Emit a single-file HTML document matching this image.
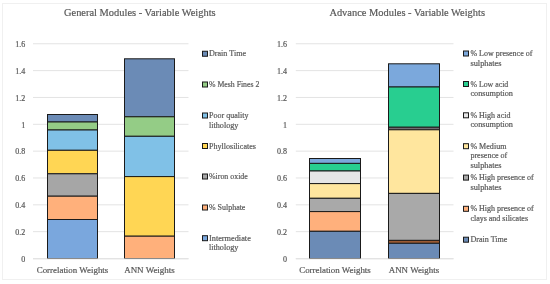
<!DOCTYPE html>
<html><head><meta charset="utf-8"><title>Variable Weights</title>
<style>
html,body{margin:0;padding:0;background:#fff;}
body{width:550px;height:284px;overflow:hidden;}
svg{display:block;}
svg text{font-family:"Liberation Serif", "DejaVu Serif", serif;stroke:#595959;stroke-width:0.2px;}
</style></head><body>
<svg width="550" height="284" viewBox="0 0 550 284">
<rect x="2.5" y="3.5" width="544" height="276" fill="#fff" stroke="#f0f0f0" stroke-width="1"/>
<text x="64" y="16" font-size="10.4" textLength="151.6" lengthAdjust="spacingAndGlyphs" fill="#595959">General Modules - Variable Weights</text>
<line x1="33" x2="188.5" y1="258.50" y2="258.50" stroke="#e3e3e3" stroke-width="1"/>
<text x="25.3" y="261.70" font-size="8" text-anchor="end" fill="#595959">0</text>
<line x1="33" x2="188.5" y1="231.66" y2="231.66" stroke="#e3e3e3" stroke-width="1"/>
<text x="25.3" y="234.86" font-size="8" text-anchor="end" fill="#595959">0.2</text>
<line x1="33" x2="188.5" y1="204.82" y2="204.82" stroke="#e3e3e3" stroke-width="1"/>
<text x="25.3" y="208.02" font-size="8" text-anchor="end" fill="#595959">0.4</text>
<line x1="33" x2="188.5" y1="177.98" y2="177.98" stroke="#e3e3e3" stroke-width="1"/>
<text x="25.3" y="181.18" font-size="8" text-anchor="end" fill="#595959">0.6</text>
<line x1="33" x2="188.5" y1="151.14" y2="151.14" stroke="#e3e3e3" stroke-width="1"/>
<text x="25.3" y="154.34" font-size="8" text-anchor="end" fill="#595959">0.8</text>
<line x1="33" x2="188.5" y1="124.30" y2="124.30" stroke="#e3e3e3" stroke-width="1"/>
<text x="25.3" y="127.50" font-size="8" text-anchor="end" fill="#595959">1</text>
<line x1="33" x2="188.5" y1="97.46" y2="97.46" stroke="#e3e3e3" stroke-width="1"/>
<text x="25.3" y="100.66" font-size="8" text-anchor="end" fill="#595959">1.2</text>
<line x1="33" x2="188.5" y1="70.62" y2="70.62" stroke="#e3e3e3" stroke-width="1"/>
<text x="25.3" y="73.82" font-size="8" text-anchor="end" fill="#595959">1.4</text>
<line x1="33" x2="188.5" y1="43.78" y2="43.78" stroke="#e3e3e3" stroke-width="1"/>
<text x="25.3" y="46.98" font-size="8" text-anchor="end" fill="#595959">1.6</text>
<rect x="47.5" y="114.50" width="50.0" height="7.50" fill="#6b8bb6" stroke="#1a1a1a" stroke-width="1"/>
<rect x="47.5" y="122.00" width="50.0" height="8.00" fill="#94cc86" stroke="#1a1a1a" stroke-width="1"/>
<rect x="47.5" y="130.00" width="50.0" height="20.30" fill="#80c1e7" stroke="#1a1a1a" stroke-width="1"/>
<rect x="47.5" y="150.30" width="50.0" height="23.50" fill="#ffd654" stroke="#1a1a1a" stroke-width="1"/>
<rect x="47.5" y="173.80" width="50.0" height="22.40" fill="#a6a6a6" stroke="#1a1a1a" stroke-width="1"/>
<rect x="47.5" y="196.20" width="50.0" height="23.30" fill="#ffb07b" stroke="#1a1a1a" stroke-width="1"/>
<rect x="47.5" y="219.50" width="50.0" height="39.00" fill="#7aa7dd" stroke="#1a1a1a" stroke-width="1"/>
<text x="72.5" y="273" font-size="8.9" text-anchor="middle" textLength="71.6" lengthAdjust="spacingAndGlyphs" fill="#595959">Correlation Weights</text>
<rect x="124.5" y="58.80" width="50.0" height="58.00" fill="#6b8bb6" stroke="#1a1a1a" stroke-width="1"/>
<rect x="124.5" y="116.80" width="50.0" height="19.50" fill="#94cc86" stroke="#1a1a1a" stroke-width="1"/>
<rect x="124.5" y="136.30" width="50.0" height="40.30" fill="#80c1e7" stroke="#1a1a1a" stroke-width="1"/>
<rect x="124.5" y="176.60" width="50.0" height="59.60" fill="#ffd654" stroke="#1a1a1a" stroke-width="1"/>
<rect x="124.5" y="236.20" width="50.0" height="22.30" fill="#ffb07b" stroke="#1a1a1a" stroke-width="1"/>
<text x="149.5" y="273" font-size="8.9" text-anchor="middle" textLength="50.6" lengthAdjust="spacingAndGlyphs" fill="#595959">ANN Weights</text>
<line x1="33" x2="188.5" y1="258.95" y2="258.95" stroke="#e3e3e3" stroke-width="1"/>
<rect x="202.5" y="51.25" width="5" height="5" fill="#6b8bb6" stroke="#1a1a1a" stroke-width="1"/>
<text x="209" y="56.25" font-size="8" textLength="37" lengthAdjust="spacingAndGlyphs" fill="#595959">Drain Time</text>
<rect x="202.5" y="82.0" width="5" height="5" fill="#94cc86" stroke="#1a1a1a" stroke-width="1"/>
<text x="209" y="87.00" font-size="8" textLength="50.3" lengthAdjust="spacingAndGlyphs" fill="#595959">% Mesh Fines 2</text>
<rect x="202.5" y="113.0" width="5" height="5" fill="#80c1e7" stroke="#1a1a1a" stroke-width="1"/>
<text x="209" y="118.00" font-size="8" textLength="39.5" lengthAdjust="spacingAndGlyphs" fill="#595959">Poor quality</text>
<text x="209" y="127.65" font-size="8" textLength="29.41" lengthAdjust="spacingAndGlyphs" fill="#595959">lithology</text>
<rect x="202.5" y="143.5" width="5" height="5" fill="#ffd654" stroke="#1a1a1a" stroke-width="1"/>
<text x="209" y="148.50" font-size="8" textLength="46.9" lengthAdjust="spacingAndGlyphs" fill="#595959">Phyllosilicates</text>
<rect x="202.5" y="174.0" width="5" height="5" fill="#a6a6a6" stroke="#1a1a1a" stroke-width="1"/>
<text x="209" y="179.00" font-size="8" textLength="38.8" lengthAdjust="spacingAndGlyphs" fill="#595959">%iron oxide</text>
<rect x="202.5" y="205.0" width="5" height="5" fill="#ffb07b" stroke="#1a1a1a" stroke-width="1"/>
<text x="209" y="210.00" font-size="8" textLength="36.4" lengthAdjust="spacingAndGlyphs" fill="#595959">% Sulphate</text>
<rect x="202.5" y="235.7" width="5" height="5" fill="#7aa7dd" stroke="#1a1a1a" stroke-width="1"/>
<text x="209" y="240.70" font-size="8" textLength="41.8" lengthAdjust="spacingAndGlyphs" fill="#595959">Intermediate</text>
<text x="209" y="250.35" font-size="8" textLength="29.41" lengthAdjust="spacingAndGlyphs" fill="#595959">lithology</text>
<text x="329.4" y="16" font-size="10.4" textLength="155.6" lengthAdjust="spacingAndGlyphs" fill="#595959">Advance Modules - Variable Weights</text>
<line x1="295.8" x2="453.5" y1="258.50" y2="258.50" stroke="#e3e3e3" stroke-width="1"/>
<text x="287" y="261.70" font-size="8" text-anchor="end" fill="#595959">0</text>
<line x1="295.8" x2="453.5" y1="231.66" y2="231.66" stroke="#e3e3e3" stroke-width="1"/>
<text x="287" y="234.86" font-size="8" text-anchor="end" fill="#595959">0.2</text>
<line x1="295.8" x2="453.5" y1="204.82" y2="204.82" stroke="#e3e3e3" stroke-width="1"/>
<text x="287" y="208.02" font-size="8" text-anchor="end" fill="#595959">0.4</text>
<line x1="295.8" x2="453.5" y1="177.98" y2="177.98" stroke="#e3e3e3" stroke-width="1"/>
<text x="287" y="181.18" font-size="8" text-anchor="end" fill="#595959">0.6</text>
<line x1="295.8" x2="453.5" y1="151.14" y2="151.14" stroke="#e3e3e3" stroke-width="1"/>
<text x="287" y="154.34" font-size="8" text-anchor="end" fill="#595959">0.8</text>
<line x1="295.8" x2="453.5" y1="124.30" y2="124.30" stroke="#e3e3e3" stroke-width="1"/>
<text x="287" y="127.50" font-size="8" text-anchor="end" fill="#595959">1</text>
<line x1="295.8" x2="453.5" y1="97.46" y2="97.46" stroke="#e3e3e3" stroke-width="1"/>
<text x="287" y="100.66" font-size="8" text-anchor="end" fill="#595959">1.2</text>
<line x1="295.8" x2="453.5" y1="70.62" y2="70.62" stroke="#e3e3e3" stroke-width="1"/>
<text x="287" y="73.82" font-size="8" text-anchor="end" fill="#595959">1.4</text>
<line x1="295.8" x2="453.5" y1="43.78" y2="43.78" stroke="#e3e3e3" stroke-width="1"/>
<text x="287" y="46.98" font-size="8" text-anchor="end" fill="#595959">1.6</text>
<rect x="309.5" y="158.50" width="51.0" height="4.90" fill="#7ba8dc" stroke="#1a1a1a" stroke-width="1"/>
<rect x="309.5" y="163.40" width="51.0" height="7.60" fill="#28ce90" stroke="#1a1a1a" stroke-width="1"/>
<rect x="309.5" y="171.00" width="51.0" height="12.60" fill="#e6e6e6" stroke="#1a1a1a" stroke-width="1"/>
<rect x="309.5" y="183.60" width="51.0" height="14.70" fill="#ffe69e" stroke="#1a1a1a" stroke-width="1"/>
<rect x="309.5" y="198.30" width="51.0" height="13.30" fill="#a9a9a9" stroke="#1a1a1a" stroke-width="1"/>
<rect x="309.5" y="211.60" width="51.0" height="19.70" fill="#ffb07c" stroke="#1a1a1a" stroke-width="1"/>
<rect x="309.5" y="231.30" width="51.0" height="27.20" fill="#6b8bb6" stroke="#1a1a1a" stroke-width="1"/>
<text x="335.0" y="273" font-size="8.9" text-anchor="middle" textLength="71.6" lengthAdjust="spacingAndGlyphs" fill="#595959">Correlation Weights</text>
<rect x="388.5" y="63.80" width="51.0" height="23.20" fill="#7ba8dc" stroke="#1a1a1a" stroke-width="1"/>
<rect x="388.5" y="87.00" width="51.0" height="40.30" fill="#28ce90" stroke="#1a1a1a" stroke-width="1"/>
<rect x="388.5" y="127.20" width="51.0" height="2.70" fill="#6f6b72" stroke="#1a1a1a" stroke-width="1"/>
<rect x="388.5" y="129.80" width="51.0" height="63.60" fill="#ffe69e" stroke="#1a1a1a" stroke-width="1"/>
<rect x="388.5" y="193.40" width="51.0" height="47.10" fill="#a9a9a9" stroke="#1a1a1a" stroke-width="1"/>
<rect x="388.5" y="240.30" width="51.0" height="3.10" fill="#9a5a33" stroke="#1a1a1a" stroke-width="1"/>
<rect x="388.5" y="243.30" width="51.0" height="15.20" fill="#6b8bb6" stroke="#1a1a1a" stroke-width="1"/>
<text x="414.0" y="273" font-size="8.9" text-anchor="middle" textLength="50.6" lengthAdjust="spacingAndGlyphs" fill="#595959">ANN Weights</text>
<line x1="295.8" x2="453.5" y1="258.95" y2="258.95" stroke="#e3e3e3" stroke-width="1"/>
<rect x="463.5" y="51.0" width="5" height="5" fill="#7ba8dc" stroke="#1a1a1a" stroke-width="1"/>
<text x="470.4" y="56.00" font-size="8" textLength="62" lengthAdjust="spacingAndGlyphs" fill="#595959">% Low presence of</text>
<text x="470.4" y="65.65" font-size="8" textLength="31.13" lengthAdjust="spacingAndGlyphs" fill="#595959">sulphates</text>
<rect x="463.5" y="81.5" width="5" height="5" fill="#28ce90" stroke="#1a1a1a" stroke-width="1"/>
<text x="470.4" y="86.50" font-size="8" textLength="37.89" lengthAdjust="spacingAndGlyphs" fill="#595959">% Low acid</text>
<text x="470.4" y="96.15" font-size="8" textLength="42.57" lengthAdjust="spacingAndGlyphs" fill="#595959">consumption</text>
<rect x="463.5" y="112.8" width="5" height="5" fill="#e6e6e6" stroke="#1a1a1a" stroke-width="1"/>
<text x="470.4" y="117.80" font-size="8" textLength="40.03" lengthAdjust="spacingAndGlyphs" fill="#595959">% High acid</text>
<text x="470.4" y="127.45" font-size="8" textLength="42.57" lengthAdjust="spacingAndGlyphs" fill="#595959">consumption</text>
<rect x="463.5" y="143.7" width="5" height="5" fill="#ffe69e" stroke="#1a1a1a" stroke-width="1"/>
<text x="470.4" y="148.70" font-size="8" textLength="36.06" lengthAdjust="spacingAndGlyphs" fill="#595959">% Medium</text>
<text x="470.4" y="158.35" font-size="8" textLength="36.89" lengthAdjust="spacingAndGlyphs" fill="#595959">presence of</text>
<text x="470.4" y="168.00" font-size="8" textLength="31.13" lengthAdjust="spacingAndGlyphs" fill="#595959">sulphates</text>
<rect x="463.5" y="175.1" width="5" height="5" fill="#a9a9a9" stroke="#1a1a1a" stroke-width="1"/>
<text x="470.4" y="180.10" font-size="8" textLength="63.36" lengthAdjust="spacingAndGlyphs" fill="#595959">% High presence of</text>
<text x="470.4" y="189.75" font-size="8" textLength="31.13" lengthAdjust="spacingAndGlyphs" fill="#595959">sulphates</text>
<rect x="463.5" y="206.3" width="5" height="5" fill="#ffb07c" stroke="#1a1a1a" stroke-width="1"/>
<text x="470.4" y="211.30" font-size="8" textLength="63.36" lengthAdjust="spacingAndGlyphs" fill="#595959">% High presence of</text>
<text x="470.4" y="220.95" font-size="8" textLength="57.63" lengthAdjust="spacingAndGlyphs" fill="#595959">clays and silicates</text>
<rect x="463.5" y="237.2" width="5" height="5" fill="#6b8bb6" stroke="#1a1a1a" stroke-width="1"/>
<text x="470.4" y="242.20" font-size="8" textLength="37" lengthAdjust="spacingAndGlyphs" fill="#595959">Drain Time</text>
</svg>
</body></html>
